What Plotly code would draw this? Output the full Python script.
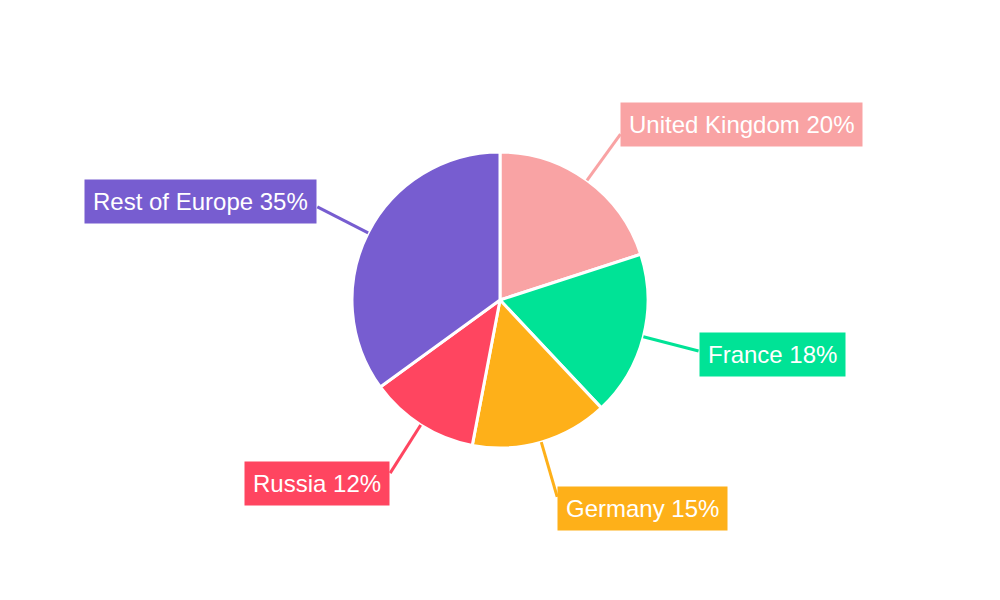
import numpy as np
import plotly.graph_objects as go

regions = ['United Kingdom', 'France', 'Germany', 'Russia', 'Rest of Europe']
shares = [20, 18, 15, 12, 35]
colors = ['#F9A3A4', '#00E396', '#FEB019', '#FF4560', '#775DD0']

W, H = 1000, 600
CX, CY = 492, 292   # pie centre in px from top-left (page has an 8px body margin)
R = 148             # pie radius in px
LINE = 57           # leader line length in px

cx = CX / W
cy = 1 - CY / H

fig = go.Figure()
fig.add_trace(go.Pie(
    labels=regions, values=shares, sort=False, direction='clockwise',
    marker=dict(colors=colors, line=dict(color='white', width=3)),
    textinfo='none', hoverinfo='label+percent', showlegend=False,
    domain=dict(x=[cx - R / W, cx + R / W], y=[cy - R / H, cy + R / H]),
))

# leader lines + boxed labels, placed from the slice mid angles
total = sum(shares)
start = 0
for name, val, col in zip(regions, shares, colors):
    mid = (start + val / 2) / total * 2 * np.pi
    start += val
    s, c = np.sin(mid), np.cos(mid)
    x0, y0 = cx + R * s / W, cy + R * c / H
    x1, y1 = cx + (R + LINE) * s / W, cy + (R + LINE) * c / H
    fig.add_shape(type='line', xref='paper', yref='paper',
                  x0=x0, y0=y0, x1=x1, y1=y1,
                  line=dict(color=col, width=3))
    fig.add_annotation(
        xref='paper', yref='paper', x=x1, y=y1,
        text=f'{name} {val}%', showarrow=False,
        xanchor='left' if s > 0 else 'right', yanchor='middle',
        yshift=12.5 * c,
        bgcolor=col, borderpad=8,
        font=dict(family='Liberation Sans, Arial', size=24, color='white'),
    )

fig.update_layout(
    width=W, height=H, margin=dict(l=0, r=0, t=0, b=0),
    paper_bgcolor='white', plot_bgcolor='white',
)

fig.write_html("out.html")
